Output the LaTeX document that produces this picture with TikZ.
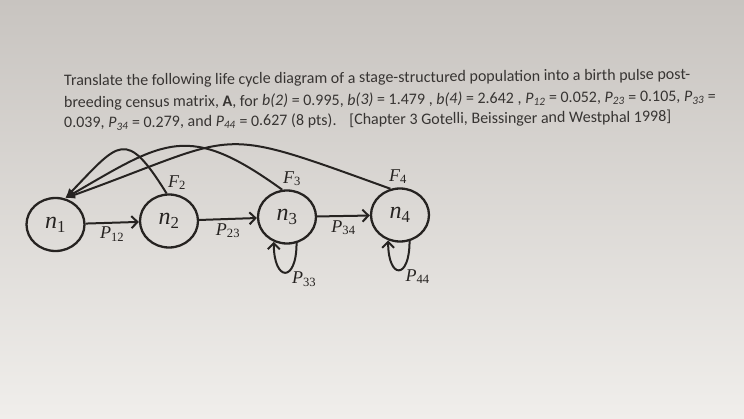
\documentclass[tikz,border=0pt]{standalone}
\usepackage{fontspec}
\setmainfont{Carlito}
\newfontfamily\diagfont{Liberation Serif}
\usepackage{tikz}
\usetikzlibrary{arrows.meta}
\usetikzlibrary{shapes.geometric}

\definecolor{ink}{RGB}{38,35,33}
\definecolor{printgray}{RGB}{55,52,50}
\definecolor{papertop}{RGB}{200,196,192}
\definecolor{papermid}{RGB}{222,218,213}
\definecolor{paperlow}{RGB}{240,238,235}

\tikzset{
    stage/.style={shape=ellipse, draw=ink, line width=2.3pt, minimum width=58pt, minimum height=53pt,
        inner sep=0pt, text=ink, font=\diagfont\fontsize{24}{24}\selectfont\itshape},
    trans/.style={draw=ink, line width=2pt, -{Straight Barb[length=6pt,width=12pt]}},
    fert/.style={draw=ink, line width=2pt, -{Latex[length=10pt,width=8pt]}},
    rate/.style={font=\diagfont\fontsize{18}{18}\selectfont, text=ink},
    qline/.style={anchor=base west, rotate=0.6, inner sep=0pt, text=printgray, font=\fontsize{16}{16}\selectfont}}

\newcommand{\stg}[1]{n\textsubscript{\upshape #1}}
\newcommand{\Rt}[2]{\textit{#1}\textsubscript{#2}}
\newcommand{\Pq}[1]{\textit{P\textsubscript{#1}}}

\begin{document}
\begin{tikzpicture}[x=1pt, y=1pt]

    \shade[top color=papertop, middle color=papermid, bottom color=paperlow] (0,0) rectangle (744,-419);
    \useasboundingbox (0,0) rectangle (744,-419);

    % question text
    \node[qline] (q1) at (64,-86) {Translate the following life cycle diagram of a stage-structured population into a birth pulse post-};
    \node[qline] (q2) at (64,-108) {breeding census matrix, \textbf{A}, for \textit{b(2)} = 0.995, \textit{b(3)} = 1.479 , \textit{b(4)} = 2.642 , \Pq{12} = 0.052, \Pq{23} = 0.105, \Pq{33} =};
    \node[qline] (q3) at (64,-128) {0.039, \Pq{34} = 0.279, and \Pq{44} = 0.627 (8 pts).\hspace{0.8em}[Chapter 3 Gotelli, Beissinger and Westphal 1998]};

    % stages
    \node[stage] (n1) at (55.5,-224.5) {\stg{1}};
    \node[stage, label={[rate, xshift=8pt]above:\Rt{F}{2}}] (n2) at (169,-221) {\stg{2}};
    \node[stage, label={[rate, xshift=5pt]above:\Rt{F}{3}}] (n3) at (287,-217) {\stg{3}};
    \node[stage, label={[rate, xshift=-2pt]above:\Rt{F}{4}}] (n4) at (400,-215) {\stg{4}};

    \draw[trans] (n1) -- (n2) node[midway, below, rate] {\Rt{P}{12}};
    \draw[trans] (n2) -- (n3) node[midway, below, rate] {\Rt{P}{23}};
    \draw[trans] (n3) -- (n4) node[midway, below, rate] {\Rt{P}{34}};

    \draw[trans] (n3.-70) .. controls +(0,-40) and +(0,-40) .. (n3.-118) node[pos=0.35, below right, rate, inner sep=1pt] {\Rt{P}{33}};
    \draw[trans] (n4.-70) .. controls +(0,-39) and +(0,-39) .. (n4.-115) node[pos=0.35, below right, rate, inner sep=1pt] {\Rt{P}{44}};

    % fecundities back to n1
    \draw[fert] (n2.95) .. controls +(-41,66) and +(54,56) .. (n1.70);
    \draw[fert] (n3.100) .. controls +(-94,68) and +(100,58) .. (n1.70);
    \draw[fert] (n4.110) .. controls +(-180,65) and +(180,65) .. (n1.70);

\end{tikzpicture}
\end{document}
